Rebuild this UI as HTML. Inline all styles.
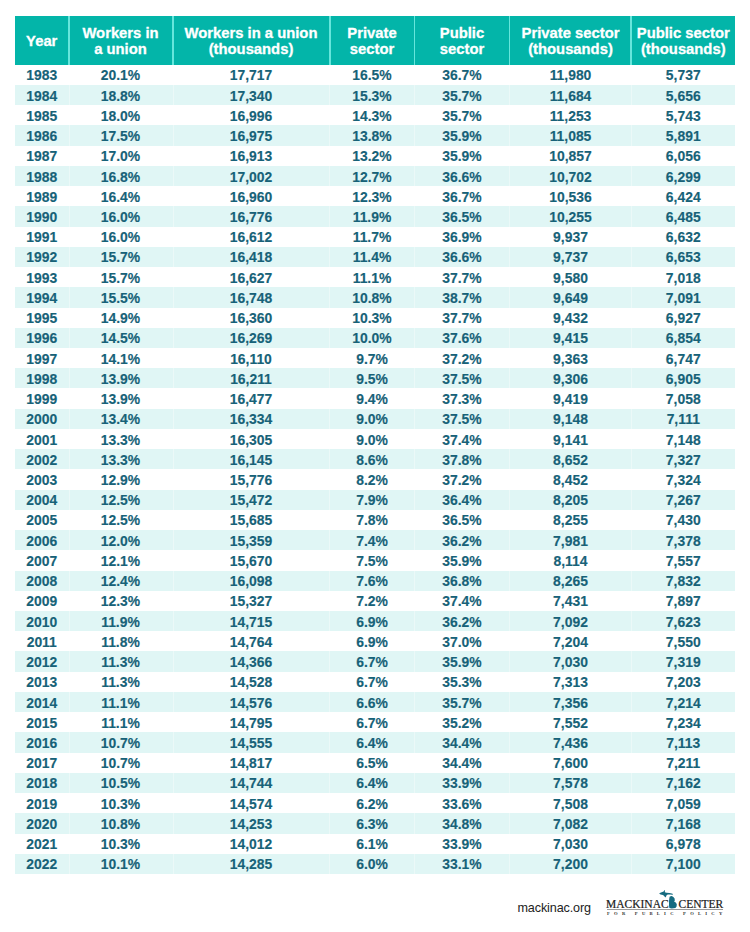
<!DOCTYPE html><html><head><meta charset="utf-8"><style>
*{margin:0;padding:0;box-sizing:border-box}
html,body{width:750px;height:932px;background:#fff;overflow:hidden;position:relative}
body{font-family:"Liberation Sans",sans-serif;font-weight:bold}
.h{position:absolute;padding-top:0px;background:#03b5a9;color:#fff;-webkit-text-stroke:0.3px #fff;font-size:14.8px;line-height:16px;text-align:center;display:flex;align-items:center;justify-content:center}
.c{position:absolute;padding-top:1px;color:#176278;-webkit-text-stroke:0.15px #176278;font-size:13.9px;text-align:center;display:flex;align-items:center;justify-content:center}
.t{background:#e0f6f5}
.sep{position:absolute;background:#fff}
</style></head><body>
<div class="h" style="left:15px;top:16.4px;width:53.5px;height:48.4px">Year</div>
<div class="h" style="left:68.5px;top:16.4px;width:104.0px;height:48.4px">Workers in<br>a union</div>
<div class="h" style="left:172.5px;top:16.4px;width:157.0px;height:48.4px">Workers in a union<br>(thousands)</div>
<div class="h" style="left:329.5px;top:16.4px;width:85.0px;height:48.4px">Private<br>sector</div>
<div class="h" style="left:414.5px;top:16.4px;width:95.0px;height:48.4px">Public<br>sector</div>
<div class="h" style="left:509.5px;top:16.4px;width:122.0px;height:48.4px">Private sector<br>(thousands)</div>
<div class="h" style="left:631.5px;top:16.4px;width:103.5px;height:48.4px">Public sector<br>(thousands)</div>
<div class="c" style="left:15px;top:64.80px;width:53.5px;height:20.23px">1983</div>
<div class="c" style="left:68.5px;top:64.80px;width:104.0px;height:20.23px">20.1%</div>
<div class="c" style="left:172.5px;top:64.80px;width:157.0px;height:20.23px">17,717</div>
<div class="c" style="left:329.5px;top:64.80px;width:85.0px;height:20.23px">16.5%</div>
<div class="c" style="left:414.5px;top:64.80px;width:95.0px;height:20.23px">36.7%</div>
<div class="c" style="left:509.5px;top:64.80px;width:122.0px;height:20.23px">11,980</div>
<div class="c" style="left:631.5px;top:64.80px;width:103.5px;height:20.23px">5,737</div>
<div class="c t" style="left:15px;top:85.03px;width:53.5px;height:20.23px">1984</div>
<div class="c t" style="left:68.5px;top:85.03px;width:104.0px;height:20.23px">18.8%</div>
<div class="c t" style="left:172.5px;top:85.03px;width:157.0px;height:20.23px">17,340</div>
<div class="c t" style="left:329.5px;top:85.03px;width:85.0px;height:20.23px">15.3%</div>
<div class="c t" style="left:414.5px;top:85.03px;width:95.0px;height:20.23px">35.7%</div>
<div class="c t" style="left:509.5px;top:85.03px;width:122.0px;height:20.23px">11,684</div>
<div class="c t" style="left:631.5px;top:85.03px;width:103.5px;height:20.23px">5,656</div>
<div class="c" style="left:15px;top:105.26px;width:53.5px;height:20.23px">1985</div>
<div class="c" style="left:68.5px;top:105.26px;width:104.0px;height:20.23px">18.0%</div>
<div class="c" style="left:172.5px;top:105.26px;width:157.0px;height:20.23px">16,996</div>
<div class="c" style="left:329.5px;top:105.26px;width:85.0px;height:20.23px">14.3%</div>
<div class="c" style="left:414.5px;top:105.26px;width:95.0px;height:20.23px">35.7%</div>
<div class="c" style="left:509.5px;top:105.26px;width:122.0px;height:20.23px">11,253</div>
<div class="c" style="left:631.5px;top:105.26px;width:103.5px;height:20.23px">5,743</div>
<div class="c t" style="left:15px;top:125.49px;width:53.5px;height:20.23px">1986</div>
<div class="c t" style="left:68.5px;top:125.49px;width:104.0px;height:20.23px">17.5%</div>
<div class="c t" style="left:172.5px;top:125.49px;width:157.0px;height:20.23px">16,975</div>
<div class="c t" style="left:329.5px;top:125.49px;width:85.0px;height:20.23px">13.8%</div>
<div class="c t" style="left:414.5px;top:125.49px;width:95.0px;height:20.23px">35.9%</div>
<div class="c t" style="left:509.5px;top:125.49px;width:122.0px;height:20.23px">11,085</div>
<div class="c t" style="left:631.5px;top:125.49px;width:103.5px;height:20.23px">5,891</div>
<div class="c" style="left:15px;top:145.72px;width:53.5px;height:20.23px">1987</div>
<div class="c" style="left:68.5px;top:145.72px;width:104.0px;height:20.23px">17.0%</div>
<div class="c" style="left:172.5px;top:145.72px;width:157.0px;height:20.23px">16,913</div>
<div class="c" style="left:329.5px;top:145.72px;width:85.0px;height:20.23px">13.2%</div>
<div class="c" style="left:414.5px;top:145.72px;width:95.0px;height:20.23px">35.9%</div>
<div class="c" style="left:509.5px;top:145.72px;width:122.0px;height:20.23px">10,857</div>
<div class="c" style="left:631.5px;top:145.72px;width:103.5px;height:20.23px">6,056</div>
<div class="c t" style="left:15px;top:165.95px;width:53.5px;height:20.23px">1988</div>
<div class="c t" style="left:68.5px;top:165.95px;width:104.0px;height:20.23px">16.8%</div>
<div class="c t" style="left:172.5px;top:165.95px;width:157.0px;height:20.23px">17,002</div>
<div class="c t" style="left:329.5px;top:165.95px;width:85.0px;height:20.23px">12.7%</div>
<div class="c t" style="left:414.5px;top:165.95px;width:95.0px;height:20.23px">36.6%</div>
<div class="c t" style="left:509.5px;top:165.95px;width:122.0px;height:20.23px">10,702</div>
<div class="c t" style="left:631.5px;top:165.95px;width:103.5px;height:20.23px">6,299</div>
<div class="c" style="left:15px;top:186.18px;width:53.5px;height:20.23px">1989</div>
<div class="c" style="left:68.5px;top:186.18px;width:104.0px;height:20.23px">16.4%</div>
<div class="c" style="left:172.5px;top:186.18px;width:157.0px;height:20.23px">16,960</div>
<div class="c" style="left:329.5px;top:186.18px;width:85.0px;height:20.23px">12.3%</div>
<div class="c" style="left:414.5px;top:186.18px;width:95.0px;height:20.23px">36.7%</div>
<div class="c" style="left:509.5px;top:186.18px;width:122.0px;height:20.23px">10,536</div>
<div class="c" style="left:631.5px;top:186.18px;width:103.5px;height:20.23px">6,424</div>
<div class="c t" style="left:15px;top:206.41px;width:53.5px;height:20.23px">1990</div>
<div class="c t" style="left:68.5px;top:206.41px;width:104.0px;height:20.23px">16.0%</div>
<div class="c t" style="left:172.5px;top:206.41px;width:157.0px;height:20.23px">16,776</div>
<div class="c t" style="left:329.5px;top:206.41px;width:85.0px;height:20.23px">11.9%</div>
<div class="c t" style="left:414.5px;top:206.41px;width:95.0px;height:20.23px">36.5%</div>
<div class="c t" style="left:509.5px;top:206.41px;width:122.0px;height:20.23px">10,255</div>
<div class="c t" style="left:631.5px;top:206.41px;width:103.5px;height:20.23px">6,485</div>
<div class="c" style="left:15px;top:226.64px;width:53.5px;height:20.23px">1991</div>
<div class="c" style="left:68.5px;top:226.64px;width:104.0px;height:20.23px">16.0%</div>
<div class="c" style="left:172.5px;top:226.64px;width:157.0px;height:20.23px">16,612</div>
<div class="c" style="left:329.5px;top:226.64px;width:85.0px;height:20.23px">11.7%</div>
<div class="c" style="left:414.5px;top:226.64px;width:95.0px;height:20.23px">36.9%</div>
<div class="c" style="left:509.5px;top:226.64px;width:122.0px;height:20.23px">9,937</div>
<div class="c" style="left:631.5px;top:226.64px;width:103.5px;height:20.23px">6,632</div>
<div class="c t" style="left:15px;top:246.87px;width:53.5px;height:20.23px">1992</div>
<div class="c t" style="left:68.5px;top:246.87px;width:104.0px;height:20.23px">15.7%</div>
<div class="c t" style="left:172.5px;top:246.87px;width:157.0px;height:20.23px">16,418</div>
<div class="c t" style="left:329.5px;top:246.87px;width:85.0px;height:20.23px">11.4%</div>
<div class="c t" style="left:414.5px;top:246.87px;width:95.0px;height:20.23px">36.6%</div>
<div class="c t" style="left:509.5px;top:246.87px;width:122.0px;height:20.23px">9,737</div>
<div class="c t" style="left:631.5px;top:246.87px;width:103.5px;height:20.23px">6,653</div>
<div class="c" style="left:15px;top:267.10px;width:53.5px;height:20.23px">1993</div>
<div class="c" style="left:68.5px;top:267.10px;width:104.0px;height:20.23px">15.7%</div>
<div class="c" style="left:172.5px;top:267.10px;width:157.0px;height:20.23px">16,627</div>
<div class="c" style="left:329.5px;top:267.10px;width:85.0px;height:20.23px">11.1%</div>
<div class="c" style="left:414.5px;top:267.10px;width:95.0px;height:20.23px">37.7%</div>
<div class="c" style="left:509.5px;top:267.10px;width:122.0px;height:20.23px">9,580</div>
<div class="c" style="left:631.5px;top:267.10px;width:103.5px;height:20.23px">7,018</div>
<div class="c t" style="left:15px;top:287.33px;width:53.5px;height:20.23px">1994</div>
<div class="c t" style="left:68.5px;top:287.33px;width:104.0px;height:20.23px">15.5%</div>
<div class="c t" style="left:172.5px;top:287.33px;width:157.0px;height:20.23px">16,748</div>
<div class="c t" style="left:329.5px;top:287.33px;width:85.0px;height:20.23px">10.8%</div>
<div class="c t" style="left:414.5px;top:287.33px;width:95.0px;height:20.23px">38.7%</div>
<div class="c t" style="left:509.5px;top:287.33px;width:122.0px;height:20.23px">9,649</div>
<div class="c t" style="left:631.5px;top:287.33px;width:103.5px;height:20.23px">7,091</div>
<div class="c" style="left:15px;top:307.56px;width:53.5px;height:20.23px">1995</div>
<div class="c" style="left:68.5px;top:307.56px;width:104.0px;height:20.23px">14.9%</div>
<div class="c" style="left:172.5px;top:307.56px;width:157.0px;height:20.23px">16,360</div>
<div class="c" style="left:329.5px;top:307.56px;width:85.0px;height:20.23px">10.3%</div>
<div class="c" style="left:414.5px;top:307.56px;width:95.0px;height:20.23px">37.7%</div>
<div class="c" style="left:509.5px;top:307.56px;width:122.0px;height:20.23px">9,432</div>
<div class="c" style="left:631.5px;top:307.56px;width:103.5px;height:20.23px">6,927</div>
<div class="c t" style="left:15px;top:327.79px;width:53.5px;height:20.23px">1996</div>
<div class="c t" style="left:68.5px;top:327.79px;width:104.0px;height:20.23px">14.5%</div>
<div class="c t" style="left:172.5px;top:327.79px;width:157.0px;height:20.23px">16,269</div>
<div class="c t" style="left:329.5px;top:327.79px;width:85.0px;height:20.23px">10.0%</div>
<div class="c t" style="left:414.5px;top:327.79px;width:95.0px;height:20.23px">37.6%</div>
<div class="c t" style="left:509.5px;top:327.79px;width:122.0px;height:20.23px">9,415</div>
<div class="c t" style="left:631.5px;top:327.79px;width:103.5px;height:20.23px">6,854</div>
<div class="c" style="left:15px;top:348.02px;width:53.5px;height:20.23px">1997</div>
<div class="c" style="left:68.5px;top:348.02px;width:104.0px;height:20.23px">14.1%</div>
<div class="c" style="left:172.5px;top:348.02px;width:157.0px;height:20.23px">16,110</div>
<div class="c" style="left:329.5px;top:348.02px;width:85.0px;height:20.23px">9.7%</div>
<div class="c" style="left:414.5px;top:348.02px;width:95.0px;height:20.23px">37.2%</div>
<div class="c" style="left:509.5px;top:348.02px;width:122.0px;height:20.23px">9,363</div>
<div class="c" style="left:631.5px;top:348.02px;width:103.5px;height:20.23px">6,747</div>
<div class="c t" style="left:15px;top:368.25px;width:53.5px;height:20.23px">1998</div>
<div class="c t" style="left:68.5px;top:368.25px;width:104.0px;height:20.23px">13.9%</div>
<div class="c t" style="left:172.5px;top:368.25px;width:157.0px;height:20.23px">16,211</div>
<div class="c t" style="left:329.5px;top:368.25px;width:85.0px;height:20.23px">9.5%</div>
<div class="c t" style="left:414.5px;top:368.25px;width:95.0px;height:20.23px">37.5%</div>
<div class="c t" style="left:509.5px;top:368.25px;width:122.0px;height:20.23px">9,306</div>
<div class="c t" style="left:631.5px;top:368.25px;width:103.5px;height:20.23px">6,905</div>
<div class="c" style="left:15px;top:388.48px;width:53.5px;height:20.23px">1999</div>
<div class="c" style="left:68.5px;top:388.48px;width:104.0px;height:20.23px">13.9%</div>
<div class="c" style="left:172.5px;top:388.48px;width:157.0px;height:20.23px">16,477</div>
<div class="c" style="left:329.5px;top:388.48px;width:85.0px;height:20.23px">9.4%</div>
<div class="c" style="left:414.5px;top:388.48px;width:95.0px;height:20.23px">37.3%</div>
<div class="c" style="left:509.5px;top:388.48px;width:122.0px;height:20.23px">9,419</div>
<div class="c" style="left:631.5px;top:388.48px;width:103.5px;height:20.23px">7,058</div>
<div class="c t" style="left:15px;top:408.71px;width:53.5px;height:20.23px">2000</div>
<div class="c t" style="left:68.5px;top:408.71px;width:104.0px;height:20.23px">13.4%</div>
<div class="c t" style="left:172.5px;top:408.71px;width:157.0px;height:20.23px">16,334</div>
<div class="c t" style="left:329.5px;top:408.71px;width:85.0px;height:20.23px">9.0%</div>
<div class="c t" style="left:414.5px;top:408.71px;width:95.0px;height:20.23px">37.5%</div>
<div class="c t" style="left:509.5px;top:408.71px;width:122.0px;height:20.23px">9,148</div>
<div class="c t" style="left:631.5px;top:408.71px;width:103.5px;height:20.23px">7,111</div>
<div class="c" style="left:15px;top:428.94px;width:53.5px;height:20.23px">2001</div>
<div class="c" style="left:68.5px;top:428.94px;width:104.0px;height:20.23px">13.3%</div>
<div class="c" style="left:172.5px;top:428.94px;width:157.0px;height:20.23px">16,305</div>
<div class="c" style="left:329.5px;top:428.94px;width:85.0px;height:20.23px">9.0%</div>
<div class="c" style="left:414.5px;top:428.94px;width:95.0px;height:20.23px">37.4%</div>
<div class="c" style="left:509.5px;top:428.94px;width:122.0px;height:20.23px">9,141</div>
<div class="c" style="left:631.5px;top:428.94px;width:103.5px;height:20.23px">7,148</div>
<div class="c t" style="left:15px;top:449.17px;width:53.5px;height:20.23px">2002</div>
<div class="c t" style="left:68.5px;top:449.17px;width:104.0px;height:20.23px">13.3%</div>
<div class="c t" style="left:172.5px;top:449.17px;width:157.0px;height:20.23px">16,145</div>
<div class="c t" style="left:329.5px;top:449.17px;width:85.0px;height:20.23px">8.6%</div>
<div class="c t" style="left:414.5px;top:449.17px;width:95.0px;height:20.23px">37.8%</div>
<div class="c t" style="left:509.5px;top:449.17px;width:122.0px;height:20.23px">8,652</div>
<div class="c t" style="left:631.5px;top:449.17px;width:103.5px;height:20.23px">7,327</div>
<div class="c" style="left:15px;top:469.40px;width:53.5px;height:20.23px">2003</div>
<div class="c" style="left:68.5px;top:469.40px;width:104.0px;height:20.23px">12.9%</div>
<div class="c" style="left:172.5px;top:469.40px;width:157.0px;height:20.23px">15,776</div>
<div class="c" style="left:329.5px;top:469.40px;width:85.0px;height:20.23px">8.2%</div>
<div class="c" style="left:414.5px;top:469.40px;width:95.0px;height:20.23px">37.2%</div>
<div class="c" style="left:509.5px;top:469.40px;width:122.0px;height:20.23px">8,452</div>
<div class="c" style="left:631.5px;top:469.40px;width:103.5px;height:20.23px">7,324</div>
<div class="c t" style="left:15px;top:489.63px;width:53.5px;height:20.23px">2004</div>
<div class="c t" style="left:68.5px;top:489.63px;width:104.0px;height:20.23px">12.5%</div>
<div class="c t" style="left:172.5px;top:489.63px;width:157.0px;height:20.23px">15,472</div>
<div class="c t" style="left:329.5px;top:489.63px;width:85.0px;height:20.23px">7.9%</div>
<div class="c t" style="left:414.5px;top:489.63px;width:95.0px;height:20.23px">36.4%</div>
<div class="c t" style="left:509.5px;top:489.63px;width:122.0px;height:20.23px">8,205</div>
<div class="c t" style="left:631.5px;top:489.63px;width:103.5px;height:20.23px">7,267</div>
<div class="c" style="left:15px;top:509.86px;width:53.5px;height:20.23px">2005</div>
<div class="c" style="left:68.5px;top:509.86px;width:104.0px;height:20.23px">12.5%</div>
<div class="c" style="left:172.5px;top:509.86px;width:157.0px;height:20.23px">15,685</div>
<div class="c" style="left:329.5px;top:509.86px;width:85.0px;height:20.23px">7.8%</div>
<div class="c" style="left:414.5px;top:509.86px;width:95.0px;height:20.23px">36.5%</div>
<div class="c" style="left:509.5px;top:509.86px;width:122.0px;height:20.23px">8,255</div>
<div class="c" style="left:631.5px;top:509.86px;width:103.5px;height:20.23px">7,430</div>
<div class="c t" style="left:15px;top:530.09px;width:53.5px;height:20.23px">2006</div>
<div class="c t" style="left:68.5px;top:530.09px;width:104.0px;height:20.23px">12.0%</div>
<div class="c t" style="left:172.5px;top:530.09px;width:157.0px;height:20.23px">15,359</div>
<div class="c t" style="left:329.5px;top:530.09px;width:85.0px;height:20.23px">7.4%</div>
<div class="c t" style="left:414.5px;top:530.09px;width:95.0px;height:20.23px">36.2%</div>
<div class="c t" style="left:509.5px;top:530.09px;width:122.0px;height:20.23px">7,981</div>
<div class="c t" style="left:631.5px;top:530.09px;width:103.5px;height:20.23px">7,378</div>
<div class="c" style="left:15px;top:550.32px;width:53.5px;height:20.23px">2007</div>
<div class="c" style="left:68.5px;top:550.32px;width:104.0px;height:20.23px">12.1%</div>
<div class="c" style="left:172.5px;top:550.32px;width:157.0px;height:20.23px">15,670</div>
<div class="c" style="left:329.5px;top:550.32px;width:85.0px;height:20.23px">7.5%</div>
<div class="c" style="left:414.5px;top:550.32px;width:95.0px;height:20.23px">35.9%</div>
<div class="c" style="left:509.5px;top:550.32px;width:122.0px;height:20.23px">8,114</div>
<div class="c" style="left:631.5px;top:550.32px;width:103.5px;height:20.23px">7,557</div>
<div class="c t" style="left:15px;top:570.55px;width:53.5px;height:20.23px">2008</div>
<div class="c t" style="left:68.5px;top:570.55px;width:104.0px;height:20.23px">12.4%</div>
<div class="c t" style="left:172.5px;top:570.55px;width:157.0px;height:20.23px">16,098</div>
<div class="c t" style="left:329.5px;top:570.55px;width:85.0px;height:20.23px">7.6%</div>
<div class="c t" style="left:414.5px;top:570.55px;width:95.0px;height:20.23px">36.8%</div>
<div class="c t" style="left:509.5px;top:570.55px;width:122.0px;height:20.23px">8,265</div>
<div class="c t" style="left:631.5px;top:570.55px;width:103.5px;height:20.23px">7,832</div>
<div class="c" style="left:15px;top:590.78px;width:53.5px;height:20.23px">2009</div>
<div class="c" style="left:68.5px;top:590.78px;width:104.0px;height:20.23px">12.3%</div>
<div class="c" style="left:172.5px;top:590.78px;width:157.0px;height:20.23px">15,327</div>
<div class="c" style="left:329.5px;top:590.78px;width:85.0px;height:20.23px">7.2%</div>
<div class="c" style="left:414.5px;top:590.78px;width:95.0px;height:20.23px">37.4%</div>
<div class="c" style="left:509.5px;top:590.78px;width:122.0px;height:20.23px">7,431</div>
<div class="c" style="left:631.5px;top:590.78px;width:103.5px;height:20.23px">7,897</div>
<div class="c t" style="left:15px;top:611.01px;width:53.5px;height:20.23px">2010</div>
<div class="c t" style="left:68.5px;top:611.01px;width:104.0px;height:20.23px">11.9%</div>
<div class="c t" style="left:172.5px;top:611.01px;width:157.0px;height:20.23px">14,715</div>
<div class="c t" style="left:329.5px;top:611.01px;width:85.0px;height:20.23px">6.9%</div>
<div class="c t" style="left:414.5px;top:611.01px;width:95.0px;height:20.23px">36.2%</div>
<div class="c t" style="left:509.5px;top:611.01px;width:122.0px;height:20.23px">7,092</div>
<div class="c t" style="left:631.5px;top:611.01px;width:103.5px;height:20.23px">7,623</div>
<div class="c" style="left:15px;top:631.24px;width:53.5px;height:20.23px">2011</div>
<div class="c" style="left:68.5px;top:631.24px;width:104.0px;height:20.23px">11.8%</div>
<div class="c" style="left:172.5px;top:631.24px;width:157.0px;height:20.23px">14,764</div>
<div class="c" style="left:329.5px;top:631.24px;width:85.0px;height:20.23px">6.9%</div>
<div class="c" style="left:414.5px;top:631.24px;width:95.0px;height:20.23px">37.0%</div>
<div class="c" style="left:509.5px;top:631.24px;width:122.0px;height:20.23px">7,204</div>
<div class="c" style="left:631.5px;top:631.24px;width:103.5px;height:20.23px">7,550</div>
<div class="c t" style="left:15px;top:651.47px;width:53.5px;height:20.23px">2012</div>
<div class="c t" style="left:68.5px;top:651.47px;width:104.0px;height:20.23px">11.3%</div>
<div class="c t" style="left:172.5px;top:651.47px;width:157.0px;height:20.23px">14,366</div>
<div class="c t" style="left:329.5px;top:651.47px;width:85.0px;height:20.23px">6.7%</div>
<div class="c t" style="left:414.5px;top:651.47px;width:95.0px;height:20.23px">35.9%</div>
<div class="c t" style="left:509.5px;top:651.47px;width:122.0px;height:20.23px">7,030</div>
<div class="c t" style="left:631.5px;top:651.47px;width:103.5px;height:20.23px">7,319</div>
<div class="c" style="left:15px;top:671.70px;width:53.5px;height:20.23px">2013</div>
<div class="c" style="left:68.5px;top:671.70px;width:104.0px;height:20.23px">11.3%</div>
<div class="c" style="left:172.5px;top:671.70px;width:157.0px;height:20.23px">14,528</div>
<div class="c" style="left:329.5px;top:671.70px;width:85.0px;height:20.23px">6.7%</div>
<div class="c" style="left:414.5px;top:671.70px;width:95.0px;height:20.23px">35.3%</div>
<div class="c" style="left:509.5px;top:671.70px;width:122.0px;height:20.23px">7,313</div>
<div class="c" style="left:631.5px;top:671.70px;width:103.5px;height:20.23px">7,203</div>
<div class="c t" style="left:15px;top:691.93px;width:53.5px;height:20.23px">2014</div>
<div class="c t" style="left:68.5px;top:691.93px;width:104.0px;height:20.23px">11.1%</div>
<div class="c t" style="left:172.5px;top:691.93px;width:157.0px;height:20.23px">14,576</div>
<div class="c t" style="left:329.5px;top:691.93px;width:85.0px;height:20.23px">6.6%</div>
<div class="c t" style="left:414.5px;top:691.93px;width:95.0px;height:20.23px">35.7%</div>
<div class="c t" style="left:509.5px;top:691.93px;width:122.0px;height:20.23px">7,356</div>
<div class="c t" style="left:631.5px;top:691.93px;width:103.5px;height:20.23px">7,214</div>
<div class="c" style="left:15px;top:712.16px;width:53.5px;height:20.23px">2015</div>
<div class="c" style="left:68.5px;top:712.16px;width:104.0px;height:20.23px">11.1%</div>
<div class="c" style="left:172.5px;top:712.16px;width:157.0px;height:20.23px">14,795</div>
<div class="c" style="left:329.5px;top:712.16px;width:85.0px;height:20.23px">6.7%</div>
<div class="c" style="left:414.5px;top:712.16px;width:95.0px;height:20.23px">35.2%</div>
<div class="c" style="left:509.5px;top:712.16px;width:122.0px;height:20.23px">7,552</div>
<div class="c" style="left:631.5px;top:712.16px;width:103.5px;height:20.23px">7,234</div>
<div class="c t" style="left:15px;top:732.39px;width:53.5px;height:20.23px">2016</div>
<div class="c t" style="left:68.5px;top:732.39px;width:104.0px;height:20.23px">10.7%</div>
<div class="c t" style="left:172.5px;top:732.39px;width:157.0px;height:20.23px">14,555</div>
<div class="c t" style="left:329.5px;top:732.39px;width:85.0px;height:20.23px">6.4%</div>
<div class="c t" style="left:414.5px;top:732.39px;width:95.0px;height:20.23px">34.4%</div>
<div class="c t" style="left:509.5px;top:732.39px;width:122.0px;height:20.23px">7,436</div>
<div class="c t" style="left:631.5px;top:732.39px;width:103.5px;height:20.23px">7,113</div>
<div class="c" style="left:15px;top:752.62px;width:53.5px;height:20.23px">2017</div>
<div class="c" style="left:68.5px;top:752.62px;width:104.0px;height:20.23px">10.7%</div>
<div class="c" style="left:172.5px;top:752.62px;width:157.0px;height:20.23px">14,817</div>
<div class="c" style="left:329.5px;top:752.62px;width:85.0px;height:20.23px">6.5%</div>
<div class="c" style="left:414.5px;top:752.62px;width:95.0px;height:20.23px">34.4%</div>
<div class="c" style="left:509.5px;top:752.62px;width:122.0px;height:20.23px">7,600</div>
<div class="c" style="left:631.5px;top:752.62px;width:103.5px;height:20.23px">7,211</div>
<div class="c t" style="left:15px;top:772.85px;width:53.5px;height:20.23px">2018</div>
<div class="c t" style="left:68.5px;top:772.85px;width:104.0px;height:20.23px">10.5%</div>
<div class="c t" style="left:172.5px;top:772.85px;width:157.0px;height:20.23px">14,744</div>
<div class="c t" style="left:329.5px;top:772.85px;width:85.0px;height:20.23px">6.4%</div>
<div class="c t" style="left:414.5px;top:772.85px;width:95.0px;height:20.23px">33.9%</div>
<div class="c t" style="left:509.5px;top:772.85px;width:122.0px;height:20.23px">7,578</div>
<div class="c t" style="left:631.5px;top:772.85px;width:103.5px;height:20.23px">7,162</div>
<div class="c" style="left:15px;top:793.08px;width:53.5px;height:20.23px">2019</div>
<div class="c" style="left:68.5px;top:793.08px;width:104.0px;height:20.23px">10.3%</div>
<div class="c" style="left:172.5px;top:793.08px;width:157.0px;height:20.23px">14,574</div>
<div class="c" style="left:329.5px;top:793.08px;width:85.0px;height:20.23px">6.2%</div>
<div class="c" style="left:414.5px;top:793.08px;width:95.0px;height:20.23px">33.6%</div>
<div class="c" style="left:509.5px;top:793.08px;width:122.0px;height:20.23px">7,508</div>
<div class="c" style="left:631.5px;top:793.08px;width:103.5px;height:20.23px">7,059</div>
<div class="c t" style="left:15px;top:813.31px;width:53.5px;height:20.23px">2020</div>
<div class="c t" style="left:68.5px;top:813.31px;width:104.0px;height:20.23px">10.8%</div>
<div class="c t" style="left:172.5px;top:813.31px;width:157.0px;height:20.23px">14,253</div>
<div class="c t" style="left:329.5px;top:813.31px;width:85.0px;height:20.23px">6.3%</div>
<div class="c t" style="left:414.5px;top:813.31px;width:95.0px;height:20.23px">34.8%</div>
<div class="c t" style="left:509.5px;top:813.31px;width:122.0px;height:20.23px">7,082</div>
<div class="c t" style="left:631.5px;top:813.31px;width:103.5px;height:20.23px">7,168</div>
<div class="c" style="left:15px;top:833.54px;width:53.5px;height:20.23px">2021</div>
<div class="c" style="left:68.5px;top:833.54px;width:104.0px;height:20.23px">10.3%</div>
<div class="c" style="left:172.5px;top:833.54px;width:157.0px;height:20.23px">14,012</div>
<div class="c" style="left:329.5px;top:833.54px;width:85.0px;height:20.23px">6.1%</div>
<div class="c" style="left:414.5px;top:833.54px;width:95.0px;height:20.23px">33.9%</div>
<div class="c" style="left:509.5px;top:833.54px;width:122.0px;height:20.23px">7,030</div>
<div class="c" style="left:631.5px;top:833.54px;width:103.5px;height:20.23px">6,978</div>
<div class="c t" style="left:15px;top:853.77px;width:53.5px;height:20.23px">2022</div>
<div class="c t" style="left:68.5px;top:853.77px;width:104.0px;height:20.23px">10.1%</div>
<div class="c t" style="left:172.5px;top:853.77px;width:157.0px;height:20.23px">14,285</div>
<div class="c t" style="left:329.5px;top:853.77px;width:85.0px;height:20.23px">6.0%</div>
<div class="c t" style="left:414.5px;top:853.77px;width:95.0px;height:20.23px">33.1%</div>
<div class="c t" style="left:509.5px;top:853.77px;width:122.0px;height:20.23px">7,200</div>
<div class="c t" style="left:631.5px;top:853.77px;width:103.5px;height:20.23px">7,100</div>
<div class="sep" style="left:68.25px;top:16.4px;width:1.5px;height:48.4px;background:#66e6dc"></div>
<div class="sep" style="left:68.5px;top:64.8px;width:1px;height:809.2px;opacity:0.35"></div>
<div class="sep" style="left:172.25px;top:16.4px;width:1.5px;height:48.4px;background:#66e6dc"></div>
<div class="sep" style="left:172.5px;top:64.8px;width:1px;height:809.2px;opacity:0.35"></div>
<div class="sep" style="left:329.05px;top:16.4px;width:1.5px;height:48.4px;background:#66e6dc"></div>
<div class="sep" style="left:329.3px;top:64.8px;width:1px;height:809.2px;opacity:0.35"></div>
<div class="sep" style="left:413.95px;top:16.4px;width:1.5px;height:48.4px;background:#66e6dc"></div>
<div class="sep" style="left:414.2px;top:64.8px;width:1px;height:809.2px;opacity:0.35"></div>
<div class="sep" style="left:508.75px;top:16.4px;width:1.5px;height:48.4px;background:#66e6dc"></div>
<div class="sep" style="left:509.0px;top:64.8px;width:1px;height:809.2px;opacity:0.35"></div>
<div class="sep" style="left:630.25px;top:16.4px;width:1.5px;height:48.4px;background:#66e6dc"></div>
<div class="sep" style="left:630.5px;top:64.8px;width:1px;height:809.2px;opacity:0.35"></div>
<div style="position:absolute;left:517.5px;top:900.5px;font-weight:normal;font-size:12.6px;line-height:14px;letter-spacing:-0.12px;color:#222">mackinac.org</div>
<div style="position:absolute;left:606px;top:898.8px;font-family:'Liberation Serif',serif;font-weight:normal;font-size:11.5px;line-height:11px;color:#1a1a1a;-webkit-text-stroke:0.2px #1a1a1a;white-space:nowrap">MACKINAC</div>
<div style="position:absolute;left:678.5px;top:898.8px;font-family:'Liberation Serif',serif;font-weight:normal;font-size:11.5px;line-height:11px;color:#1a1a1a;-webkit-text-stroke:0.2px #1a1a1a;white-space:nowrap">CENTER</div>
<div style="position:absolute;left:607px;top:909px;width:116px;height:1px;background:#9a9a9a"></div>
<div style="position:absolute;left:607px;top:910.5px;width:120px;font-family:'Liberation Serif',serif;font-weight:bold;font-size:4.6px;line-height:5px;letter-spacing:4.25px;color:#333;white-space:nowrap">FOR PUBLIC POLICY</div>
<svg style="position:absolute;left:655px;top:885px" width="30" height="27" viewBox="0 0 30 27"><path fill="#156b80" d="M4.4,8.2 L6,7.6 L8.6,6.4 L9.6,5 L10,5.6 L9.8,7.2 L11.6,7.8 L14.4,8 L16.8,8.6 L18,9 L17.6,9.8 L15.2,9.6 L12.8,9.6 L11.6,10.2 L11,11.8 L10.2,12.4 L9.4,11.2 L8,10 L5.6,9.4 L4.4,8.8 Z M14.8,11.6 L16.8,11 L18.4,12 L19.6,13.6 L19.8,15.6 L19.2,16.8 L20.8,17.6 L21.8,19.2 L21.6,21.6 L20.4,23 L16.8,23.4 L14.4,23 L14,20.8 L14,16 L14.4,12.8 Z"/></svg>
</body></html>
